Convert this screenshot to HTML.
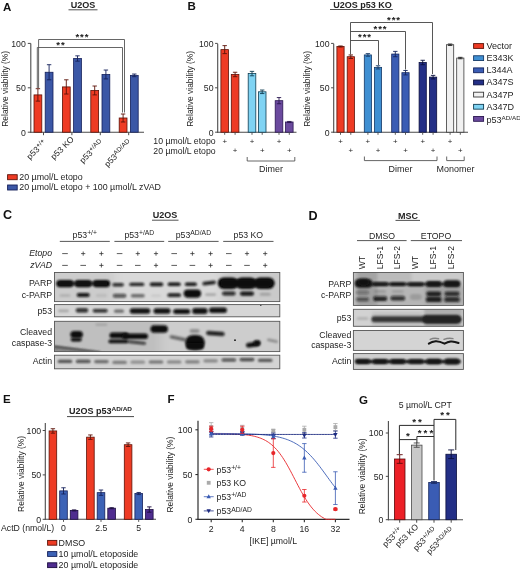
<!DOCTYPE html>
<html><head><meta charset="utf-8"><title>Figure</title>
<style>
html,body{margin:0;padding:0;background:#fff;}
body{width:520px;height:571px;overflow:hidden;}
svg{display:block;font-family:"Liberation Sans",Arial,Helvetica,sans-serif;}
</style></head><body>
<svg width="520" height="571" viewBox="0 0 520 571">
<defs>
<filter id="b1" x="-30%" y="-80%" width="160%" height="260%"><feGaussianBlur stdDeviation="0.8"/></filter>
<filter id="b05" x="-30%" y="-80%" width="160%" height="260%"><feGaussianBlur stdDeviation="0.45"/></filter>
<filter id="b15" x="-30%" y="-80%" width="160%" height="260%"><feGaussianBlur stdDeviation="0.9"/></filter>
<filter id="b2" x="-30%" y="-80%" width="160%" height="260%"><feGaussianBlur stdDeviation="1.1"/></filter>
<filter id="b3" x="-30%" y="-80%" width="160%" height="260%"><feGaussianBlur stdDeviation="1.8"/></filter>
<filter id="b6" x="-40%" y="-80%" width="180%" height="260%"><feGaussianBlur stdDeviation="5"/></filter>
</defs>
<rect width="520" height="571" fill="#ffffff"/>

<g id="panelA">
<text font-size="11.00" fill="#111" font-weight="bold" transform="translate(3.00 10.60) scale(1.05 1)">A</text>
<text font-size="8.60" fill="#242424" text-anchor="middle" font-weight="bold" transform="translate(83.00 8.40) scale(1.05 1)">U2OS</text>
<line x1="68.50" y1="9.80" x2="97.50" y2="9.80" stroke="#242424" stroke-width="0.80"/>
<line x1="30.80" y1="43.60" x2="30.80" y2="132.70" stroke="#4a4a4a" stroke-width="1.10"/>
<line x1="27.80" y1="132.20" x2="30.80" y2="132.20" stroke="#4a4a4a" stroke-width="1.00"/>
<text font-size="8.30" fill="#242424" text-anchor="end" transform="translate(25.80 135.69) scale(1.05 1)">0</text>
<line x1="27.80" y1="87.80" x2="30.80" y2="87.80" stroke="#4a4a4a" stroke-width="1.00"/>
<text font-size="8.30" fill="#242424" text-anchor="end" transform="translate(25.80 91.29) scale(1.05 1)">50</text>
<line x1="27.80" y1="43.40" x2="30.80" y2="43.40" stroke="#4a4a4a" stroke-width="1.00"/>
<text font-size="8.30" fill="#242424" text-anchor="end" transform="translate(25.80 46.89) scale(1.05 1)">100</text>
<text font-size="8.45" fill="#242424" text-anchor="middle" transform="translate(8.40 88.80) rotate(-90) scale(1 1)">Relative viability (%)</text>
<line x1="30.30" y1="132.20" x2="144.00" y2="132.20" stroke="#4a4a4a" stroke-width="1.10"/>
<rect x="34.00" y="94.90" width="7.80" height="37.30" fill="#ee3b24" stroke="#5c1208" stroke-width="0.80"/>
<line x1="37.90" y1="88.69" x2="37.90" y2="101.12" stroke="#5c1208" stroke-width="0.90"/>
<line x1="35.70" y1="88.69" x2="40.10" y2="88.69" stroke="#5c1208" stroke-width="0.90"/>
<line x1="35.70" y1="101.12" x2="40.10" y2="101.12" stroke="#5c1208" stroke-width="0.90"/>
<rect x="45.20" y="72.26" width="7.80" height="59.94" fill="#3b57a6" stroke="#14205a" stroke-width="0.80"/>
<line x1="49.10" y1="64.71" x2="49.10" y2="79.81" stroke="#14205a" stroke-width="0.90"/>
<line x1="46.90" y1="64.71" x2="51.30" y2="64.71" stroke="#14205a" stroke-width="0.90"/>
<line x1="46.90" y1="79.81" x2="51.30" y2="79.81" stroke="#14205a" stroke-width="0.90"/>
<line x1="43.50" y1="132.20" x2="43.50" y2="135.20" stroke="#4a4a4a" stroke-width="1.00"/>
<rect x="62.40" y="86.91" width="7.80" height="45.29" fill="#ee3b24" stroke="#5c1208" stroke-width="0.80"/>
<line x1="66.30" y1="79.81" x2="66.30" y2="94.02" stroke="#5c1208" stroke-width="0.90"/>
<line x1="64.10" y1="79.81" x2="68.50" y2="79.81" stroke="#5c1208" stroke-width="0.90"/>
<line x1="64.10" y1="94.02" x2="68.50" y2="94.02" stroke="#5c1208" stroke-width="0.90"/>
<rect x="73.60" y="58.50" width="7.80" height="73.70" fill="#3b57a6" stroke="#14205a" stroke-width="0.80"/>
<line x1="77.50" y1="55.83" x2="77.50" y2="61.16" stroke="#14205a" stroke-width="0.90"/>
<line x1="75.30" y1="55.83" x2="79.70" y2="55.83" stroke="#14205a" stroke-width="0.90"/>
<line x1="75.30" y1="61.16" x2="79.70" y2="61.16" stroke="#14205a" stroke-width="0.90"/>
<line x1="71.90" y1="132.20" x2="71.90" y2="135.20" stroke="#4a4a4a" stroke-width="1.00"/>
<rect x="90.80" y="90.46" width="7.80" height="41.74" fill="#ee3b24" stroke="#5c1208" stroke-width="0.80"/>
<line x1="94.70" y1="86.02" x2="94.70" y2="94.90" stroke="#5c1208" stroke-width="0.90"/>
<line x1="92.50" y1="86.02" x2="96.90" y2="86.02" stroke="#5c1208" stroke-width="0.90"/>
<line x1="92.50" y1="94.90" x2="96.90" y2="94.90" stroke="#5c1208" stroke-width="0.90"/>
<rect x="102.00" y="74.48" width="7.80" height="57.72" fill="#3b57a6" stroke="#14205a" stroke-width="0.80"/>
<line x1="105.90" y1="70.04" x2="105.90" y2="78.92" stroke="#14205a" stroke-width="0.90"/>
<line x1="103.70" y1="70.04" x2="108.10" y2="70.04" stroke="#14205a" stroke-width="0.90"/>
<line x1="103.70" y1="78.92" x2="108.10" y2="78.92" stroke="#14205a" stroke-width="0.90"/>
<line x1="100.30" y1="132.20" x2="100.30" y2="135.20" stroke="#4a4a4a" stroke-width="1.00"/>
<rect x="119.20" y="117.99" width="7.80" height="14.21" fill="#ee3b24" stroke="#5c1208" stroke-width="0.80"/>
<line x1="123.10" y1="114.00" x2="123.10" y2="121.99" stroke="#5c1208" stroke-width="0.90"/>
<line x1="120.90" y1="114.00" x2="125.30" y2="114.00" stroke="#5c1208" stroke-width="0.90"/>
<line x1="120.90" y1="121.99" x2="125.30" y2="121.99" stroke="#5c1208" stroke-width="0.90"/>
<rect x="130.40" y="75.37" width="7.80" height="56.83" fill="#3b57a6" stroke="#14205a" stroke-width="0.80"/>
<line x1="134.30" y1="74.04" x2="134.30" y2="76.70" stroke="#14205a" stroke-width="0.90"/>
<line x1="132.10" y1="74.04" x2="136.50" y2="74.04" stroke="#14205a" stroke-width="0.90"/>
<line x1="132.10" y1="76.70" x2="136.50" y2="76.70" stroke="#14205a" stroke-width="0.90"/>
<line x1="128.70" y1="132.20" x2="128.70" y2="135.20" stroke="#4a4a4a" stroke-width="1.00"/>
<path d="M38.6 88 V39.5 H124.5 V112.5" stroke="#555" stroke-width="0.90" fill="none"/>
<path d="M37.3 88 V47.5 H122.5 V112.5" stroke="#555" stroke-width="0.90" fill="none"/>
<text font-size="9.60" fill="#1a1a1a" text-anchor="middle" font-weight="bold" transform="translate(82.35 39.50) scale(1 1)" letter-spacing="0.90">***</text>
<text font-size="9.60" fill="#1a1a1a" text-anchor="middle" font-weight="bold" transform="translate(60.95 47.70) scale(1 1)" letter-spacing="0.90">**</text>
<text font-size="8.30" fill="#242424" text-anchor="end" transform="translate(46.80 143.10) rotate(-45) scale(1.025 1)">p53<tspan dy="-2.57" font-size="6.47">+/+</tspan></text>
<text font-size="8.30" fill="#242424" text-anchor="end" transform="translate(74.40 139.70) rotate(-45) scale(1.025 1)">p53 KO</text>
<text font-size="8.30" fill="#242424" text-anchor="end" transform="translate(103.60 143.10) rotate(-45) scale(1.025 1)">p53<tspan dy="-2.57" font-size="6.47">+/AD</tspan></text>
<text font-size="8.30" fill="#242424" text-anchor="end" transform="translate(132.00 143.10) rotate(-45) scale(1.025 1)">p53<tspan dy="-2.57" font-size="6.47">AD/AD</tspan></text>
<rect x="7.60" y="174.70" width="9.60" height="5.00" fill="#ee3b24" stroke="#5c1208" stroke-width="0.90"/>
<text font-size="8.30" fill="#242424" transform="translate(19.30 180.20) scale(1.07 1)">20 µmol/L etopo</text>
<rect x="7.60" y="185.00" width="9.60" height="5.00" fill="#3b57a6" stroke="#14205a" stroke-width="0.90"/>
<text font-size="8.30" fill="#242424" transform="translate(19.30 190.40) scale(1.07 1)">20 µmol/L etopo + 100 µmol/L zVAD</text>
</g>
<g id="panelB">
<text font-size="11.00" fill="#111" font-weight="bold" transform="translate(187.60 10.20) scale(1.05 1)">B</text>
<line x1="217.70" y1="43.80" x2="217.70" y2="132.70" stroke="#4a4a4a" stroke-width="1.10"/>
<line x1="215.10" y1="132.20" x2="217.70" y2="132.20" stroke="#4a4a4a" stroke-width="1.00"/>
<text font-size="8.30" fill="#242424" text-anchor="end" transform="translate(213.50 135.69) scale(1.05 1)">0</text>
<line x1="215.10" y1="87.80" x2="217.70" y2="87.80" stroke="#4a4a4a" stroke-width="1.00"/>
<text font-size="8.30" fill="#242424" text-anchor="end" transform="translate(213.50 91.29) scale(1.05 1)">50</text>
<line x1="215.10" y1="43.40" x2="217.70" y2="43.40" stroke="#4a4a4a" stroke-width="1.00"/>
<text font-size="8.30" fill="#242424" text-anchor="end" transform="translate(213.50 46.89) scale(1.05 1)">100</text>
<text font-size="8.45" fill="#242424" text-anchor="middle" transform="translate(192.60 88.80) rotate(-90) scale(1 1)">Relative viability (%)</text>
<line x1="217.20" y1="132.20" x2="296.50" y2="132.20" stroke="#4a4a4a" stroke-width="1.10"/>
<rect x="220.90" y="49.62" width="7.60" height="82.58" fill="#ee3b24" stroke="#5c1208" stroke-width="0.80"/>
<line x1="224.70" y1="45.62" x2="224.70" y2="53.61" stroke="#5c1208" stroke-width="0.90"/>
<line x1="222.50" y1="45.62" x2="226.90" y2="45.62" stroke="#5c1208" stroke-width="0.90"/>
<line x1="222.50" y1="53.61" x2="226.90" y2="53.61" stroke="#5c1208" stroke-width="0.90"/>
<line x1="224.70" y1="132.20" x2="224.70" y2="134.80" stroke="#4a4a4a" stroke-width="0.90"/>
<text font-size="7.50" fill="#242424" text-anchor="middle" transform="translate(224.70 143.70) scale(1.05 1)">+</text>
<rect x="231.30" y="74.48" width="7.60" height="57.72" fill="#ee3b24" stroke="#5c1208" stroke-width="0.80"/>
<line x1="235.10" y1="72.26" x2="235.10" y2="76.70" stroke="#5c1208" stroke-width="0.90"/>
<line x1="232.90" y1="72.26" x2="237.30" y2="72.26" stroke="#5c1208" stroke-width="0.90"/>
<line x1="232.90" y1="76.70" x2="237.30" y2="76.70" stroke="#5c1208" stroke-width="0.90"/>
<line x1="235.10" y1="132.20" x2="235.10" y2="134.80" stroke="#4a4a4a" stroke-width="0.90"/>
<text font-size="7.50" fill="#242424" text-anchor="middle" transform="translate(235.10 153.30) scale(1.05 1)">+</text>
<rect x="248.20" y="73.59" width="7.60" height="58.61" fill="#7fd3f3" stroke="#0f3d52" stroke-width="0.80"/>
<line x1="252.00" y1="71.37" x2="252.00" y2="75.81" stroke="#0f3d52" stroke-width="0.90"/>
<line x1="249.80" y1="71.37" x2="254.20" y2="71.37" stroke="#0f3d52" stroke-width="0.90"/>
<line x1="249.80" y1="75.81" x2="254.20" y2="75.81" stroke="#0f3d52" stroke-width="0.90"/>
<line x1="252.00" y1="132.20" x2="252.00" y2="134.80" stroke="#4a4a4a" stroke-width="0.90"/>
<text font-size="7.50" fill="#242424" text-anchor="middle" transform="translate(252.00 143.70) scale(1.05 1)">+</text>
<rect x="258.40" y="91.80" width="7.60" height="40.40" fill="#7fd3f3" stroke="#0f3d52" stroke-width="0.80"/>
<line x1="262.20" y1="90.02" x2="262.20" y2="93.57" stroke="#0f3d52" stroke-width="0.90"/>
<line x1="260.00" y1="90.02" x2="264.40" y2="90.02" stroke="#0f3d52" stroke-width="0.90"/>
<line x1="260.00" y1="93.57" x2="264.40" y2="93.57" stroke="#0f3d52" stroke-width="0.90"/>
<line x1="262.20" y1="132.20" x2="262.20" y2="134.80" stroke="#4a4a4a" stroke-width="0.90"/>
<text font-size="7.50" fill="#242424" text-anchor="middle" transform="translate(262.20 153.30) scale(1.05 1)">+</text>
<rect x="275.20" y="100.68" width="7.60" height="31.52" fill="#6b4a9e" stroke="#2a1650" stroke-width="0.80"/>
<line x1="279.00" y1="97.57" x2="279.00" y2="103.78" stroke="#2a1650" stroke-width="0.90"/>
<line x1="276.80" y1="97.57" x2="281.20" y2="97.57" stroke="#2a1650" stroke-width="0.90"/>
<line x1="276.80" y1="103.78" x2="281.20" y2="103.78" stroke="#2a1650" stroke-width="0.90"/>
<line x1="279.00" y1="132.20" x2="279.00" y2="134.80" stroke="#4a4a4a" stroke-width="0.90"/>
<text font-size="7.50" fill="#242424" text-anchor="middle" transform="translate(279.00 143.70) scale(1.05 1)">+</text>
<rect x="285.50" y="121.99" width="7.60" height="10.21" fill="#6b4a9e" stroke="#2a1650" stroke-width="0.80"/>
<line x1="289.30" y1="121.46" x2="289.30" y2="122.52" stroke="#2a1650" stroke-width="0.90"/>
<line x1="287.10" y1="121.46" x2="291.50" y2="121.46" stroke="#2a1650" stroke-width="0.90"/>
<line x1="287.10" y1="122.52" x2="291.50" y2="122.52" stroke="#2a1650" stroke-width="0.90"/>
<line x1="289.30" y1="132.20" x2="289.30" y2="134.80" stroke="#4a4a4a" stroke-width="0.90"/>
<text font-size="7.50" fill="#242424" text-anchor="middle" transform="translate(289.30 153.30) scale(1.05 1)">+</text>
<text font-size="8.30" fill="#242424" text-anchor="end" transform="translate(215.60 143.90) scale(1.05 1)">10 µmol/L etopo</text>
<text font-size="8.30" fill="#242424" text-anchor="end" transform="translate(215.60 153.50) scale(1.05 1)">20 µmol/L etopo</text>
<path d="M247.2 157 V161 H294.8 V157" stroke="#555" stroke-width="0.90" fill="none"/>
<text font-size="8.30" fill="#242424" text-anchor="middle" transform="translate(271.00 172.00) scale(1.08 1)">Dimer</text>
<text font-size="8.60" fill="#242424" text-anchor="middle" font-weight="bold" transform="translate(362.50 7.80) scale(1.05 1)">U2OS p53 KO</text>
<line x1="330.00" y1="9.50" x2="392.80" y2="9.50" stroke="#242424" stroke-width="0.80"/>
<line x1="333.70" y1="43.80" x2="333.70" y2="132.70" stroke="#4a4a4a" stroke-width="1.10"/>
<line x1="331.10" y1="132.20" x2="333.70" y2="132.20" stroke="#4a4a4a" stroke-width="1.00"/>
<text font-size="8.30" fill="#242424" text-anchor="end" transform="translate(329.50 135.69) scale(1.05 1)">0</text>
<line x1="331.10" y1="87.80" x2="333.70" y2="87.80" stroke="#4a4a4a" stroke-width="1.00"/>
<text font-size="8.30" fill="#242424" text-anchor="end" transform="translate(329.50 91.29) scale(1.05 1)">50</text>
<line x1="331.10" y1="43.40" x2="333.70" y2="43.40" stroke="#4a4a4a" stroke-width="1.00"/>
<text font-size="8.30" fill="#242424" text-anchor="end" transform="translate(329.50 46.89) scale(1.05 1)">100</text>
<text font-size="8.45" fill="#242424" text-anchor="middle" transform="translate(309.60 88.80) rotate(-90) scale(1 1)">Relative viability (%)</text>
<line x1="333.20" y1="132.20" x2="468.00" y2="132.20" stroke="#4a4a4a" stroke-width="1.10"/>
<rect x="336.90" y="46.51" width="7.20" height="85.69" fill="#ee3b24" stroke="#5c1208" stroke-width="0.80"/>
<line x1="340.50" y1="45.98" x2="340.50" y2="47.04" stroke="#5c1208" stroke-width="0.90"/>
<line x1="338.30" y1="45.98" x2="342.70" y2="45.98" stroke="#5c1208" stroke-width="0.90"/>
<line x1="338.30" y1="47.04" x2="342.70" y2="47.04" stroke="#5c1208" stroke-width="0.90"/>
<line x1="340.50" y1="132.20" x2="340.50" y2="134.80" stroke="#4a4a4a" stroke-width="0.90"/>
<text font-size="7.50" fill="#242424" text-anchor="middle" transform="translate(340.50 143.70) scale(1.05 1)">+</text>
<rect x="347.20" y="56.72" width="7.20" height="75.48" fill="#ee3b24" stroke="#5c1208" stroke-width="0.80"/>
<line x1="350.80" y1="54.94" x2="350.80" y2="58.50" stroke="#5c1208" stroke-width="0.90"/>
<line x1="348.60" y1="54.94" x2="353.00" y2="54.94" stroke="#5c1208" stroke-width="0.90"/>
<line x1="348.60" y1="58.50" x2="353.00" y2="58.50" stroke="#5c1208" stroke-width="0.90"/>
<line x1="350.80" y1="132.20" x2="350.80" y2="134.80" stroke="#4a4a4a" stroke-width="0.90"/>
<text font-size="7.50" fill="#242424" text-anchor="middle" transform="translate(350.80 153.30) scale(1.05 1)">+</text>
<rect x="364.30" y="54.94" width="7.20" height="77.26" fill="#3f8fd2" stroke="#173a66" stroke-width="0.80"/>
<line x1="367.90" y1="53.61" x2="367.90" y2="56.28" stroke="#173a66" stroke-width="0.90"/>
<line x1="365.70" y1="53.61" x2="370.10" y2="53.61" stroke="#173a66" stroke-width="0.90"/>
<line x1="365.70" y1="56.28" x2="370.10" y2="56.28" stroke="#173a66" stroke-width="0.90"/>
<line x1="367.90" y1="132.20" x2="367.90" y2="134.80" stroke="#4a4a4a" stroke-width="0.90"/>
<text font-size="7.50" fill="#242424" text-anchor="middle" transform="translate(367.90 143.70) scale(1.05 1)">+</text>
<rect x="374.40" y="67.38" width="7.20" height="64.82" fill="#3f8fd2" stroke="#173a66" stroke-width="0.80"/>
<line x1="378.00" y1="65.78" x2="378.00" y2="68.97" stroke="#173a66" stroke-width="0.90"/>
<line x1="375.80" y1="65.78" x2="380.20" y2="65.78" stroke="#173a66" stroke-width="0.90"/>
<line x1="375.80" y1="68.97" x2="380.20" y2="68.97" stroke="#173a66" stroke-width="0.90"/>
<line x1="378.00" y1="132.20" x2="378.00" y2="134.80" stroke="#4a4a4a" stroke-width="0.90"/>
<text font-size="7.50" fill="#242424" text-anchor="middle" transform="translate(378.00 153.30) scale(1.05 1)">+</text>
<rect x="391.70" y="54.06" width="7.20" height="78.14" fill="#3a5cb4" stroke="#14255e" stroke-width="0.80"/>
<line x1="395.30" y1="51.39" x2="395.30" y2="56.72" stroke="#14255e" stroke-width="0.90"/>
<line x1="393.10" y1="51.39" x2="397.50" y2="51.39" stroke="#14255e" stroke-width="0.90"/>
<line x1="393.10" y1="56.72" x2="397.50" y2="56.72" stroke="#14255e" stroke-width="0.90"/>
<line x1="395.30" y1="132.20" x2="395.30" y2="134.80" stroke="#4a4a4a" stroke-width="0.90"/>
<text font-size="7.50" fill="#242424" text-anchor="middle" transform="translate(395.30 143.70) scale(1.05 1)">+</text>
<rect x="401.90" y="72.70" width="7.20" height="59.50" fill="#3a5cb4" stroke="#14255e" stroke-width="0.80"/>
<line x1="405.50" y1="70.48" x2="405.50" y2="74.92" stroke="#14255e" stroke-width="0.90"/>
<line x1="403.30" y1="70.48" x2="407.70" y2="70.48" stroke="#14255e" stroke-width="0.90"/>
<line x1="403.30" y1="74.92" x2="407.70" y2="74.92" stroke="#14255e" stroke-width="0.90"/>
<line x1="405.50" y1="132.20" x2="405.50" y2="134.80" stroke="#4a4a4a" stroke-width="0.90"/>
<text font-size="7.50" fill="#242424" text-anchor="middle" transform="translate(405.50 153.30) scale(1.05 1)">+</text>
<rect x="419.10" y="62.49" width="7.20" height="69.71" fill="#232f86" stroke="#0a0f3c" stroke-width="0.80"/>
<line x1="422.70" y1="60.27" x2="422.70" y2="64.71" stroke="#0a0f3c" stroke-width="0.90"/>
<line x1="420.50" y1="60.27" x2="424.90" y2="60.27" stroke="#0a0f3c" stroke-width="0.90"/>
<line x1="420.50" y1="64.71" x2="424.90" y2="64.71" stroke="#0a0f3c" stroke-width="0.90"/>
<line x1="422.70" y1="132.20" x2="422.70" y2="134.80" stroke="#4a4a4a" stroke-width="0.90"/>
<text font-size="7.50" fill="#242424" text-anchor="middle" transform="translate(422.70 143.70) scale(1.05 1)">+</text>
<rect x="429.50" y="77.14" width="7.20" height="55.06" fill="#232f86" stroke="#0a0f3c" stroke-width="0.80"/>
<line x1="433.10" y1="75.37" x2="433.10" y2="78.92" stroke="#0a0f3c" stroke-width="0.90"/>
<line x1="430.90" y1="75.37" x2="435.30" y2="75.37" stroke="#0a0f3c" stroke-width="0.90"/>
<line x1="430.90" y1="78.92" x2="435.30" y2="78.92" stroke="#0a0f3c" stroke-width="0.90"/>
<line x1="433.10" y1="132.20" x2="433.10" y2="134.80" stroke="#4a4a4a" stroke-width="0.90"/>
<text font-size="7.50" fill="#242424" text-anchor="middle" transform="translate(433.10 153.30) scale(1.05 1)">+</text>
<rect x="446.50" y="44.73" width="7.20" height="87.47" fill="#f1f1f1" stroke="#3a3a3a" stroke-width="0.80"/>
<line x1="450.10" y1="44.02" x2="450.10" y2="45.44" stroke="#222" stroke-width="0.90"/>
<line x1="447.90" y1="44.02" x2="452.30" y2="44.02" stroke="#222" stroke-width="0.90"/>
<line x1="447.90" y1="45.44" x2="452.30" y2="45.44" stroke="#222" stroke-width="0.90"/>
<line x1="450.10" y1="132.20" x2="450.10" y2="134.80" stroke="#4a4a4a" stroke-width="0.90"/>
<text font-size="7.50" fill="#242424" text-anchor="middle" transform="translate(450.10 143.70) scale(1.05 1)">+</text>
<rect x="456.70" y="58.05" width="7.20" height="74.15" fill="#f1f1f1" stroke="#3a3a3a" stroke-width="0.80"/>
<line x1="460.30" y1="57.34" x2="460.30" y2="58.76" stroke="#222" stroke-width="0.90"/>
<line x1="458.10" y1="57.34" x2="462.50" y2="57.34" stroke="#222" stroke-width="0.90"/>
<line x1="458.10" y1="58.76" x2="462.50" y2="58.76" stroke="#222" stroke-width="0.90"/>
<line x1="460.30" y1="132.20" x2="460.30" y2="134.80" stroke="#4a4a4a" stroke-width="0.90"/>
<text font-size="7.50" fill="#242424" text-anchor="middle" transform="translate(460.30 153.30) scale(1.05 1)">+</text>
<path d="M350.5 54.5 V22.5 H432.5 V74" stroke="#444" stroke-width="0.90" fill="none"/>
<path d="M350.5 31.5 H405.5 V69.5" stroke="#444" stroke-width="0.90" fill="none"/>
<path d="M350.5 40.5 H378.5 V65" stroke="#444" stroke-width="0.90" fill="none"/>
<text font-size="9.60" fill="#1a1a1a" text-anchor="middle" font-weight="bold" transform="translate(393.95 22.70) scale(1 1)" letter-spacing="0.90">***</text>
<text font-size="9.60" fill="#1a1a1a" text-anchor="middle" font-weight="bold" transform="translate(380.45 31.60) scale(1 1)" letter-spacing="0.90">***</text>
<text font-size="9.60" fill="#1a1a1a" text-anchor="middle" font-weight="bold" transform="translate(364.95 40.40) scale(1 1)" letter-spacing="0.90">***</text>
<path d="M364.4 156.5 V160.6 H437 V156.5" stroke="#555" stroke-width="0.90" fill="none"/>
<text font-size="8.30" fill="#242424" text-anchor="middle" transform="translate(400.50 172.00) scale(1.08 1)">Dimer</text>
<path d="M446.7 156.5 V160.6 H464.2 V156.5" stroke="#555" stroke-width="0.90" fill="none"/>
<text font-size="8.30" fill="#242424" text-anchor="middle" transform="translate(455.50 172.00) scale(1.08 1)">Monomer</text>
<rect x="473.60" y="43.60" width="10.00" height="4.80" fill="#ee3b24" stroke="#5c1208" stroke-width="0.90"/>
<text font-size="8.30" fill="#242424" transform="translate(486.40 49.00) scale(1.09 1)">Vector</text>
<rect x="473.60" y="55.75" width="10.00" height="4.80" fill="#3f8fd2" stroke="#173a66" stroke-width="0.90"/>
<text font-size="8.30" fill="#242424" transform="translate(486.40 61.15) scale(1.09 1)">E343K</text>
<rect x="473.60" y="67.90" width="10.00" height="4.80" fill="#3a5cb4" stroke="#14255e" stroke-width="0.90"/>
<text font-size="8.30" fill="#242424" transform="translate(486.40 73.30) scale(1.09 1)">L344A</text>
<rect x="473.60" y="80.05" width="10.00" height="4.80" fill="#232f86" stroke="#0a0f3c" stroke-width="0.90"/>
<text font-size="8.30" fill="#242424" transform="translate(486.40 85.45) scale(1.09 1)">A347S</text>
<rect x="473.60" y="92.20" width="10.00" height="4.80" fill="#f1f1f1" stroke="#3a3a3a" stroke-width="0.90"/>
<text font-size="8.30" fill="#242424" transform="translate(486.40 97.60) scale(1.09 1)">A347P</text>
<rect x="473.60" y="104.35" width="10.00" height="4.80" fill="#7fd3f3" stroke="#0f3d52" stroke-width="0.90"/>
<text font-size="8.30" fill="#242424" transform="translate(486.40 109.75) scale(1.09 1)">A347D</text>
<rect x="473.60" y="116.50" width="10.00" height="4.80" fill="#6b4a9e" stroke="#2a1650" stroke-width="0.90"/>
<text font-size="8.30" fill="#242424" transform="translate(486.40 122.50) scale(1.09 1)">p53<tspan dy="-2.99" font-size="5.81">AD/AD</tspan></text>
</g>
<g id="panelC">
<text font-size="12.00" fill="#111" font-weight="bold" transform="translate(3.00 218.50) scale(1.05 1)">C</text>
<text font-size="8.60" fill="#242424" text-anchor="middle" font-weight="bold" transform="translate(165.00 218.30) scale(1.05 1)">U2OS</text>
<line x1="152.00" y1="220.20" x2="178.50" y2="220.20" stroke="#242424" stroke-width="0.80"/>
<text font-size="8.30" fill="#242424" text-anchor="middle" transform="translate(84.80 237.80) scale(1.05 1)">p53<tspan dy="-2.57" font-size="6.47">+/+</tspan></text>
<line x1="59.80" y1="241.40" x2="109.80" y2="241.40" stroke="#444" stroke-width="0.90"/>
<text font-size="8.30" fill="#242424" text-anchor="middle" transform="translate(139.30 237.80) scale(1.05 1)">p53<tspan dy="-2.57" font-size="6.47">+/AD</tspan></text>
<line x1="114.40" y1="241.40" x2="164.20" y2="241.40" stroke="#444" stroke-width="0.90"/>
<text font-size="8.30" fill="#242424" text-anchor="middle" transform="translate(193.40 237.80) scale(1.05 1)">p53<tspan dy="-2.57" font-size="6.47">AD/AD</tspan></text>
<line x1="168.20" y1="241.40" x2="218.60" y2="241.40" stroke="#444" stroke-width="0.90"/>
<text font-size="8.30" fill="#242424" text-anchor="middle" transform="translate(248.35 237.80) scale(1.05 1)">p53 KO</text>
<line x1="223.20" y1="241.40" x2="273.50" y2="241.40" stroke="#444" stroke-width="0.90"/>
<text font-size="8.30" fill="#242424" text-anchor="end" font-style="italic" transform="translate(52.00 256.30) scale(1.05 1)">Etopo</text>
<text font-size="8.30" fill="#242424" text-anchor="end" font-style="italic" transform="translate(52.00 268.20) scale(1.05 1)">zVAD</text>
<line x1="62.20" y1="253.60" x2="67.80" y2="253.60" stroke="#333" stroke-width="0.80"/>
<line x1="62.20" y1="265.40" x2="67.80" y2="265.40" stroke="#333" stroke-width="0.80"/>
<line x1="81.10" y1="253.60" x2="85.30" y2="253.60" stroke="#333" stroke-width="0.80"/>
<line x1="83.20" y1="251.50" x2="83.20" y2="255.70" stroke="#333" stroke-width="0.80"/>
<line x1="80.40" y1="265.40" x2="86.00" y2="265.40" stroke="#333" stroke-width="0.80"/>
<line x1="99.30" y1="253.60" x2="103.50" y2="253.60" stroke="#333" stroke-width="0.80"/>
<line x1="101.40" y1="251.50" x2="101.40" y2="255.70" stroke="#333" stroke-width="0.80"/>
<line x1="99.30" y1="265.40" x2="103.50" y2="265.40" stroke="#333" stroke-width="0.80"/>
<line x1="101.40" y1="263.30" x2="101.40" y2="267.50" stroke="#333" stroke-width="0.80"/>
<line x1="116.80" y1="253.60" x2="122.40" y2="253.60" stroke="#333" stroke-width="0.80"/>
<line x1="116.80" y1="265.40" x2="122.40" y2="265.40" stroke="#333" stroke-width="0.80"/>
<line x1="135.70" y1="253.60" x2="139.90" y2="253.60" stroke="#333" stroke-width="0.80"/>
<line x1="137.80" y1="251.50" x2="137.80" y2="255.70" stroke="#333" stroke-width="0.80"/>
<line x1="135.00" y1="265.40" x2="140.60" y2="265.40" stroke="#333" stroke-width="0.80"/>
<line x1="153.90" y1="253.60" x2="158.10" y2="253.60" stroke="#333" stroke-width="0.80"/>
<line x1="156.00" y1="251.50" x2="156.00" y2="255.70" stroke="#333" stroke-width="0.80"/>
<line x1="153.90" y1="265.40" x2="158.10" y2="265.40" stroke="#333" stroke-width="0.80"/>
<line x1="156.00" y1="263.30" x2="156.00" y2="267.50" stroke="#333" stroke-width="0.80"/>
<line x1="171.40" y1="253.60" x2="177.00" y2="253.60" stroke="#333" stroke-width="0.80"/>
<line x1="171.40" y1="265.40" x2="177.00" y2="265.40" stroke="#333" stroke-width="0.80"/>
<line x1="190.30" y1="253.60" x2="194.50" y2="253.60" stroke="#333" stroke-width="0.80"/>
<line x1="192.40" y1="251.50" x2="192.40" y2="255.70" stroke="#333" stroke-width="0.80"/>
<line x1="189.60" y1="265.40" x2="195.20" y2="265.40" stroke="#333" stroke-width="0.80"/>
<line x1="208.50" y1="253.60" x2="212.70" y2="253.60" stroke="#333" stroke-width="0.80"/>
<line x1="210.60" y1="251.50" x2="210.60" y2="255.70" stroke="#333" stroke-width="0.80"/>
<line x1="208.50" y1="265.40" x2="212.70" y2="265.40" stroke="#333" stroke-width="0.80"/>
<line x1="210.60" y1="263.30" x2="210.60" y2="267.50" stroke="#333" stroke-width="0.80"/>
<line x1="226.00" y1="253.60" x2="231.60" y2="253.60" stroke="#333" stroke-width="0.80"/>
<line x1="226.00" y1="265.40" x2="231.60" y2="265.40" stroke="#333" stroke-width="0.80"/>
<line x1="244.90" y1="253.60" x2="249.10" y2="253.60" stroke="#333" stroke-width="0.80"/>
<line x1="247.00" y1="251.50" x2="247.00" y2="255.70" stroke="#333" stroke-width="0.80"/>
<line x1="244.20" y1="265.40" x2="249.80" y2="265.40" stroke="#333" stroke-width="0.80"/>
<line x1="263.10" y1="253.60" x2="267.30" y2="253.60" stroke="#333" stroke-width="0.80"/>
<line x1="265.20" y1="251.50" x2="265.20" y2="255.70" stroke="#333" stroke-width="0.80"/>
<line x1="263.10" y1="265.40" x2="267.30" y2="265.40" stroke="#333" stroke-width="0.80"/>
<line x1="265.20" y1="263.30" x2="265.20" y2="267.50" stroke="#333" stroke-width="0.80"/>
<clipPath id="c1"><rect x="54.50" y="272.50" width="225.30" height="29.10"/></clipPath>
<rect x="54.50" y="272.50" width="225.30" height="29.10" fill="#d9d9d9"/>
<g clip-path="url(#c1)">
<rect x="44.50" y="268.00" width="70.00" height="38.00" fill="#000" fill-opacity="0.06" filter="url(#b6)"/>
<rect x="222.00" y="268.00" width="70.00" height="38.00" fill="#000" fill-opacity="0.07" filter="url(#b6)"/>
<rect x="56.25" y="280.00" width="17.50" height="7.20" rx="3.60" ry="3.60" fill="#0a0a0a" fill-opacity="1.00" filter="url(#b1)"/>
<rect x="74.45" y="280.00" width="17.50" height="7.20" rx="3.60" ry="3.60" fill="#0a0a0a" fill-opacity="1.00" filter="url(#b1)"/>
<rect x="92.65" y="280.00" width="17.50" height="7.20" rx="3.60" ry="3.60" fill="#0a0a0a" fill-opacity="1.00" filter="url(#b1)"/>
<rect x="58.20" y="282.10" width="50.00" height="3.00" rx="1.50" ry="1.50" fill="#0a0a0a" fill-opacity="0.80" filter="url(#b1)"/>
<rect x="112.35" y="283.10" width="11.50" height="3.40" rx="1.70" ry="1.70" fill="#0a0a0a" fill-opacity="0.85" filter="url(#b1)"/>
<rect x="129.30" y="282.70" width="15.00" height="3.40" rx="1.70" ry="1.70" fill="#0a0a0a" fill-opacity="0.90" filter="url(#b1)"/>
<rect x="149.75" y="282.60" width="13.50" height="3.60" rx="1.80" ry="1.80" fill="#0a0a0a" fill-opacity="0.95" filter="url(#b1)"/>
<rect x="167.70" y="282.40" width="13.00" height="3.60" rx="1.80" ry="1.80" fill="#0a0a0a" fill-opacity="0.97" filter="url(#b1)"/>
<rect x="184.90" y="282.50" width="12.00" height="3.40" rx="1.70" ry="1.70" fill="#0a0a0a" fill-opacity="0.95" filter="url(#b1)"/>
<rect x="202.35" y="281.30" width="13.50" height="3.40" rx="1.70" ry="1.70" fill="#0a0a0a" fill-opacity="0.97" filter="url(#b1)" transform="rotate(-7 209.10 283.00)"/>
<rect x="217.75" y="277.40" width="20.50" height="11.60" rx="5.80" ry="5.80" fill="#0a0a0a" fill-opacity="1.00" filter="url(#b1)"/>
<rect x="235.95" y="277.40" width="20.50" height="11.60" rx="5.80" ry="5.80" fill="#0a0a0a" fill-opacity="1.00" filter="url(#b1)"/>
<rect x="254.15" y="277.40" width="20.50" height="11.60" rx="5.80" ry="5.80" fill="#0a0a0a" fill-opacity="1.00" filter="url(#b1)"/>
<rect x="220.20" y="279.70" width="52.00" height="7.00" rx="3.50" ry="3.50" fill="#0a0a0a" fill-opacity="1.00" filter="url(#b1)"/>
<rect x="59.50" y="294.15" width="11.00" height="2.50" rx="1.25" ry="1.25" fill="#0a0a0a" fill-opacity="0.15" filter="url(#b2)"/>
<rect x="76.70" y="292.90" width="13.00" height="4.20" rx="2.10" ry="2.10" fill="#0a0a0a" fill-opacity="0.95" filter="url(#b1)"/>
<rect x="95.90" y="294.15" width="11.00" height="2.50" rx="1.25" ry="1.25" fill="#0a0a0a" fill-opacity="0.10" filter="url(#b2)"/>
<rect x="112.85" y="293.80" width="13.50" height="4.00" rx="2.00" ry="2.00" fill="#0a0a0a" fill-opacity="0.65" filter="url(#b1)"/>
<rect x="130.80" y="294.00" width="14.00" height="3.60" rx="1.80" ry="1.80" fill="#0a0a0a" fill-opacity="0.50" filter="url(#b1)"/>
<rect x="151.00" y="294.55" width="10.00" height="2.50" rx="1.25" ry="1.25" fill="#0a0a0a" fill-opacity="0.08" filter="url(#b2)"/>
<rect x="167.45" y="293.30" width="13.50" height="3.80" rx="1.90" ry="1.90" fill="#0a0a0a" fill-opacity="0.90" filter="url(#b1)"/>
<rect x="183.65" y="289.50" width="17.50" height="8.20" rx="4.10" ry="4.10" fill="#0a0a0a" fill-opacity="1.00" filter="url(#b1)"/>
<rect x="205.10" y="293.30" width="11.00" height="2.60" rx="1.30" ry="1.30" fill="#0a0a0a" fill-opacity="0.22" filter="url(#b2)"/>
<rect x="222.05" y="291.60" width="13.50" height="4.00" rx="2.00" ry="2.00" fill="#0a0a0a" fill-opacity="0.85" filter="url(#b1)"/>
<rect x="240.00" y="291.40" width="14.00" height="4.40" rx="2.20" ry="2.20" fill="#0a0a0a" fill-opacity="0.95" filter="url(#b1)"/>
<rect x="259.70" y="292.70" width="11.00" height="3.00" rx="1.50" ry="1.50" fill="#0a0a0a" fill-opacity="0.20" filter="url(#b2)"/>
</g>
<rect x="54.50" y="272.50" width="225.30" height="29.10" fill="none" stroke="#555" stroke-width="0.90"/>
<clipPath id="c2"><rect x="54.50" y="304.60" width="225.30" height="12.20"/></clipPath>
<rect x="54.50" y="304.60" width="225.30" height="12.20" fill="#d6d6d6"/>
<g clip-path="url(#c2)">
<rect x="58.00" y="309.40" width="11.00" height="2.80" rx="1.40" ry="1.40" fill="#0a0a0a" fill-opacity="0.22" filter="url(#b2)"/>
<rect x="75.75" y="308.30" width="12.50" height="4.20" rx="2.10" ry="2.10" fill="#0a0a0a" fill-opacity="0.85" filter="url(#b1)"/>
<rect x="92.70" y="309.00" width="15.00" height="3.60" rx="1.80" ry="1.80" fill="#0a0a0a" fill-opacity="0.85" filter="url(#b1)"/>
<rect x="114.00" y="309.60" width="10.00" height="3.20" rx="1.60" ry="1.60" fill="#0a0a0a" fill-opacity="0.50" filter="url(#b1)"/>
<rect x="129.75" y="308.20" width="20.50" height="5.60" rx="2.80" ry="2.80" fill="#0a0a0a" fill-opacity="0.97" filter="url(#b1)"/>
<rect x="153.50" y="308.30" width="17.00" height="5.40" rx="2.70" ry="2.70" fill="#0a0a0a" fill-opacity="0.97" filter="url(#b1)"/>
<rect x="173.20" y="308.90" width="17.00" height="5.00" rx="2.50" ry="2.50" fill="#0a0a0a" fill-opacity="0.97" filter="url(#b1)"/>
<rect x="192.15" y="308.10" width="15.50" height="5.80" rx="2.90" ry="2.90" fill="#0a0a0a" fill-opacity="0.97" filter="url(#b1)"/>
<rect x="209.00" y="307.50" width="18.00" height="5.40" rx="2.70" ry="2.70" fill="#0a0a0a" fill-opacity="0.97" filter="url(#b1)"/>
<circle cx="260.8" cy="305.2" r="0.7" fill="#222"/>
</g>
<rect x="54.50" y="304.60" width="225.30" height="12.20" fill="none" stroke="#555" stroke-width="0.90"/>
<clipPath id="c3"><rect x="54.50" y="321.30" width="225.30" height="30.30"/></clipPath>
<rect x="54.50" y="321.30" width="225.30" height="30.30" fill="#cdcdcd"/>
<g clip-path="url(#c3)">
<rect x="44.50" y="316.00" width="116.00" height="42.00" fill="#000" fill-opacity="0.07" filter="url(#b6)"/>
<path d="M53.50 346.0 L104 352.4 L53.50 352.4 Z" fill="#8a8a8a" filter="url(#b1)"/>
<path d="M53.50 346.4 L100 352.2" stroke="#333" stroke-width="1.6" fill="none" filter="url(#b1)"/>
<rect x="70.35" y="330.90" width="12.50" height="7.00" rx="3.50" ry="3.50" fill="#0a0a0a" fill-opacity="1.00" filter="url(#b1)"/>
<rect x="70.70" y="337.70" width="11.00" height="3.80" rx="1.90" ry="1.90" fill="#0a0a0a" fill-opacity="1.00" filter="url(#b1)"/>
<rect x="95.40" y="323.50" width="12.00" height="2.20" rx="1.10" ry="1.10" fill="#0a0a0a" fill-opacity="0.16" filter="url(#b2)"/>
<rect x="109.50" y="332.60" width="19.00" height="5.60" rx="2.80" ry="2.80" fill="#0a0a0a" fill-opacity="1.00" filter="url(#b1)"/>
<rect x="122.00" y="333.40" width="26.00" height="5.60" rx="2.80" ry="2.80" fill="#0a0a0a" fill-opacity="1.00" filter="url(#b1)"/>
<rect x="108.50" y="339.50" width="20.00" height="3.80" rx="1.90" ry="1.90" fill="#0a0a0a" fill-opacity="1.00" filter="url(#b1)"/>
<rect x="128.00" y="341.20" width="18.00" height="2.80" rx="1.40" ry="1.40" fill="#0a0a0a" fill-opacity="0.80" filter="url(#b1)" transform="rotate(6 137.00 342.60)"/>
<rect x="150.45" y="325.20" width="17.50" height="7.60" rx="3.80" ry="3.80" fill="#0a0a0a" fill-opacity="1.00" filter="url(#b1)"/>
<rect x="169.50" y="336.50" width="17.00" height="3.40" rx="1.70" ry="1.70" fill="#0a0a0a" fill-opacity="0.50" filter="url(#b2)" transform="rotate(12 178.00 338.20)"/>
<rect x="189.60" y="329.00" width="10.00" height="4.00" rx="2.00" ry="2.00" fill="#0a0a0a" fill-opacity="0.30" filter="url(#b2)"/>
<rect x="185.25" y="334.95" width="19.50" height="14.50" rx="8.00" ry="7.25" fill="#0a0a0a" fill-opacity="1.00" filter="url(#b1)"/>
<rect x="186.00" y="342.50" width="18.00" height="7.00" rx="3.50" ry="3.50" fill="#0a0a0a" fill-opacity="1.00" filter="url(#b1)"/>
<rect x="206.15" y="331.60" width="18.50" height="4.00" rx="2.00" ry="2.00" fill="#0a0a0a" fill-opacity="0.95" filter="url(#b1)" transform="rotate(4 215.40 333.60)"/>
<circle cx="235" cy="340.2" r="0.9" fill="#111"/>
<rect x="246.00" y="342.30" width="14.00" height="4.60" rx="2.30" ry="2.30" fill="#0a0a0a" fill-opacity="1.00" filter="url(#b1)" transform="rotate(-8 253.00 344.60)"/>
<rect x="253.50" y="340.30" width="7.00" height="5.00" rx="2.50" ry="2.50" fill="#0a0a0a" fill-opacity="1.00" filter="url(#b1)"/>
<rect x="267.00" y="339.60" width="11.00" height="2.40" rx="1.20" ry="1.20" fill="#0a0a0a" fill-opacity="0.35" filter="url(#b2)" transform="rotate(12 272.50 340.80)"/>
</g>
<rect x="54.50" y="321.30" width="225.30" height="30.30" fill="none" stroke="#555" stroke-width="0.90"/>
<clipPath id="c4"><rect x="54.50" y="355.20" width="225.30" height="13.60"/></clipPath>
<rect x="54.50" y="355.20" width="225.30" height="13.60" fill="#d3d3d3"/>
<g clip-path="url(#c4)">
<rect x="57.70" y="359.80" width="14.60" height="3.20" rx="1.60" ry="1.60" fill="#0a0a0a" fill-opacity="0.62" filter="url(#b15)"/>
<rect x="75.90" y="359.80" width="14.60" height="3.20" rx="1.60" ry="1.60" fill="#0a0a0a" fill-opacity="0.68" filter="url(#b15)"/>
<rect x="94.10" y="360.00" width="14.60" height="3.20" rx="1.60" ry="1.60" fill="#0a0a0a" fill-opacity="0.50" filter="url(#b15)"/>
<rect x="112.30" y="360.80" width="14.60" height="3.20" rx="1.60" ry="1.60" fill="#0a0a0a" fill-opacity="0.42" filter="url(#b15)"/>
<rect x="130.50" y="360.60" width="14.60" height="3.20" rx="1.60" ry="1.60" fill="#0a0a0a" fill-opacity="0.32" filter="url(#b15)"/>
<rect x="148.70" y="360.40" width="14.60" height="3.20" rx="1.60" ry="1.60" fill="#0a0a0a" fill-opacity="0.48" filter="url(#b15)"/>
<rect x="166.90" y="360.40" width="14.60" height="3.20" rx="1.60" ry="1.60" fill="#0a0a0a" fill-opacity="0.38" filter="url(#b15)"/>
<rect x="185.10" y="360.20" width="14.60" height="3.20" rx="1.60" ry="1.60" fill="#0a0a0a" fill-opacity="0.40" filter="url(#b15)"/>
<rect x="203.30" y="359.20" width="14.60" height="3.20" rx="1.60" ry="1.60" fill="#0a0a0a" fill-opacity="0.36" filter="url(#b15)"/>
<rect x="221.50" y="358.40" width="14.60" height="3.20" rx="1.60" ry="1.60" fill="#0a0a0a" fill-opacity="0.70" filter="url(#b15)"/>
<rect x="239.70" y="358.00" width="14.60" height="3.20" rx="1.60" ry="1.60" fill="#0a0a0a" fill-opacity="0.72" filter="url(#b15)"/>
<rect x="257.90" y="358.80" width="14.60" height="3.20" rx="1.60" ry="1.60" fill="#0a0a0a" fill-opacity="0.60" filter="url(#b15)"/>
</g>
<rect x="54.50" y="355.20" width="225.30" height="13.60" fill="none" stroke="#555" stroke-width="0.90"/>
<text font-size="8.30" fill="#1c1c1c" text-anchor="end" transform="translate(52.00 285.60) scale(1.05 1)">PARP</text>
<text font-size="8.30" fill="#1c1c1c" text-anchor="end" transform="translate(52.00 298.40) scale(1.05 1)">c-PARP</text>
<text font-size="8.30" fill="#1c1c1c" text-anchor="end" transform="translate(52.00 314.20) scale(1.05 1)">p53</text>
<text font-size="8.30" fill="#1c1c1c" text-anchor="end" transform="translate(52.00 335.20) scale(1.05 1)">Cleaved</text>
<text font-size="8.30" fill="#1c1c1c" text-anchor="end" transform="translate(52.00 345.60) scale(1.05 1)">caspase-3</text>
<text font-size="8.30" fill="#1c1c1c" text-anchor="end" transform="translate(52.00 364.40) scale(1.05 1)">Actin</text>
</g>
<g id="panelD">
<text font-size="12.00" fill="#111" font-weight="bold" transform="translate(308.50 220.00) scale(1.05 1)">D</text>
<text font-size="8.60" fill="#242424" text-anchor="middle" font-weight="bold" transform="translate(408.00 218.60) scale(1.05 1)">MSC</text>
<line x1="395.50" y1="220.40" x2="420.00" y2="220.40" stroke="#242424" stroke-width="0.80"/>
<text font-size="8.30" fill="#242424" text-anchor="middle" transform="translate(382.00 238.80) scale(1.05 1)">DMSO</text>
<line x1="357.00" y1="240.60" x2="406.60" y2="240.60" stroke="#444" stroke-width="0.90"/>
<text font-size="8.30" fill="#242424" text-anchor="middle" transform="translate(436.00 238.80) scale(1.05 1)">ETOPO</text>
<line x1="410.80" y1="240.60" x2="462.00" y2="240.60" stroke="#444" stroke-width="0.90"/>
<text font-size="8.50" fill="#1c1c1c" transform="translate(364.90 269.20) rotate(-90) scale(1 1)">WT</text>
<text font-size="8.50" fill="#1c1c1c" transform="translate(382.60 269.20) rotate(-90) scale(1 1)">LFS-1</text>
<text font-size="8.50" fill="#1c1c1c" transform="translate(400.20 269.20) rotate(-90) scale(1 1)">LFS-2</text>
<text font-size="8.50" fill="#1c1c1c" transform="translate(418.20 269.20) rotate(-90) scale(1 1)">WT</text>
<text font-size="8.50" fill="#1c1c1c" transform="translate(436.20 269.20) rotate(-90) scale(1 1)">LFS-1</text>
<text font-size="8.50" fill="#1c1c1c" transform="translate(454.40 269.20) rotate(-90) scale(1 1)">LFS-2</text>
<clipPath id="c5"><rect x="353.40" y="272.50" width="110.00" height="32.90"/></clipPath>
<rect x="353.40" y="272.50" width="110.00" height="32.90" fill="#cbcbcb"/>
<g clip-path="url(#c5)">
<rect x="353.40" y="286.00" width="112.00" height="20.00" fill="#000" fill-opacity="0.10" filter="url(#b3)"/>
<rect x="353.40" y="270.00" width="58.00" height="12.00" fill="#000" fill-opacity="0.08" filter="url(#b3)"/>
<rect x="357.40" y="270.00" width="20.00" height="36.00" fill="#000" fill-opacity="0.12" filter="url(#b3)"/>
<rect x="425.00" y="286.00" width="36.00" height="18.00" fill="#000" fill-opacity="0.10" filter="url(#b3)"/>
<rect x="358.20" y="282.80" width="100.60" height="2.60" rx="1.30" ry="1.30" fill="#141414" fill-opacity="0.90" filter="url(#b15)"/>
<rect x="354.45" y="279.10" width="18.10" height="8.60" rx="4.30" ry="4.30" fill="#141414" fill-opacity="1.00" filter="url(#b15)"/>
<rect x="358.20" y="278.50" width="10.60" height="7.00" rx="3.50" ry="3.50" fill="#141414" fill-opacity="0.80" filter="url(#b15)"/>
<rect x="372.40" y="282.30" width="15.60" height="3.60" rx="1.80" ry="1.80" fill="#141414" fill-opacity="0.95" filter="url(#b15)"/>
<rect x="390.00" y="282.40" width="15.60" height="3.40" rx="1.70" ry="1.70" fill="#141414" fill-opacity="0.95" filter="url(#b15)"/>
<rect x="408.00" y="282.60" width="15.60" height="3.60" rx="1.80" ry="1.80" fill="#141414" fill-opacity="0.95" filter="url(#b15)"/>
<rect x="426.00" y="281.10" width="15.60" height="5.80" rx="2.90" ry="2.90" fill="#141414" fill-opacity="1.00" filter="url(#b15)"/>
<rect x="443.45" y="280.30" width="17.10" height="7.00" rx="3.50" ry="3.50" fill="#141414" fill-opacity="1.00" filter="url(#b15)"/>
<rect x="356.00" y="290.60" width="13.00" height="4.00" rx="2.00" ry="2.00" fill="#141414" fill-opacity="0.35" filter="url(#b2)"/>
<rect x="356.00" y="297.60" width="13.00" height="3.60" rx="1.80" ry="1.80" fill="#141414" fill-opacity="0.60" filter="url(#b2)"/>
<rect x="374.20" y="290.00" width="12.00" height="3.00" rx="1.50" ry="1.50" fill="#141414" fill-opacity="0.15" filter="url(#b2)"/>
<rect x="373.20" y="295.35" width="14.00" height="4.50" rx="2.25" ry="2.25" fill="#141414" fill-opacity="0.35" filter="url(#b2)"/>
<rect x="373.40" y="297.10" width="13.60" height="3.80" rx="1.90" ry="1.90" fill="#141414" fill-opacity="0.90" filter="url(#b15)"/>
<rect x="391.80" y="290.00" width="12.00" height="3.00" rx="1.50" ry="1.50" fill="#141414" fill-opacity="0.12" filter="url(#b2)"/>
<rect x="390.80" y="295.15" width="14.00" height="4.50" rx="2.25" ry="2.25" fill="#141414" fill-opacity="0.30" filter="url(#b2)"/>
<rect x="390.50" y="296.60" width="14.60" height="4.00" rx="2.00" ry="2.00" fill="#141414" fill-opacity="0.75" filter="url(#b15)"/>
<rect x="409.80" y="294.00" width="12.00" height="6.00" rx="3.00" ry="3.00" fill="#141414" fill-opacity="0.14" filter="url(#b2)"/>
<rect x="426.25" y="291.40" width="15.10" height="4.80" rx="2.40" ry="2.40" fill="#141414" fill-opacity="0.95" filter="url(#b15)"/>
<rect x="426.00" y="296.80" width="15.60" height="5.20" rx="2.60" ry="2.60" fill="#141414" fill-opacity="0.95" filter="url(#b15)"/>
<rect x="444.45" y="291.50" width="15.10" height="4.60" rx="2.30" ry="2.30" fill="#141414" fill-opacity="0.85" filter="url(#b15)"/>
<rect x="444.20" y="296.90" width="15.60" height="5.00" rx="2.50" ry="2.50" fill="#141414" fill-opacity="0.85" filter="url(#b15)"/>
</g>
<rect x="353.40" y="272.50" width="110.00" height="32.90" fill="none" stroke="#555" stroke-width="0.90"/>
<clipPath id="c6"><rect x="353.40" y="309.30" width="110.00" height="17.00"/></clipPath>
<rect x="353.40" y="309.30" width="110.00" height="17.00" fill="#d2d2d2"/>
<g clip-path="url(#c6)">
<rect x="424.00" y="307.00" width="38.00" height="22.00" fill="#000" fill-opacity="0.16" filter="url(#b3)"/>
<rect x="372.00" y="312.00" width="50.00" height="14.00" fill="#000" fill-opacity="0.08" filter="url(#b3)"/>
<rect x="356.50" y="316.90" width="12.00" height="3.00" rx="1.50" ry="1.50" fill="#141414" fill-opacity="0.14" filter="url(#b2)"/>
<rect x="371.40" y="316.30" width="89.60" height="6.00" rx="3.00" ry="3.00" fill="#262626" fill-opacity="0.92" filter="url(#b15)"/>
<rect x="422.30" y="315.00" width="38.60" height="8.80" rx="4.40" ry="4.40" fill="#202020" fill-opacity="0.97" filter="url(#b15)"/>
</g>
<rect x="353.40" y="309.30" width="110.00" height="17.00" fill="none" stroke="#555" stroke-width="0.90"/>
<clipPath id="c7"><rect x="353.40" y="330.50" width="110.00" height="19.90"/></clipPath>
<rect x="353.40" y="330.50" width="110.00" height="19.90" fill="#d4d4d4"/>
<g clip-path="url(#c7)">
<path d="M428.8 343.6 Q432 341.4 435.6 341.2 T444.6 343.6 Q447.6 342.0 450.6 341.5 T458.6 343.0" stroke="#141414" stroke-width="2.0" fill="none" filter="url(#b05)" stroke-linecap="round"/>
<path d="M430.2 339.4 Q434 337.6 438.6 338.8 M444 339.4 Q448.4 337.6 453 338.6" stroke="#333" stroke-opacity="0.5" stroke-width="1.4" fill="none" filter="url(#b05)" stroke-linecap="round"/>
</g>
<rect x="353.40" y="330.50" width="110.00" height="19.90" fill="none" stroke="#555" stroke-width="0.90"/>
<clipPath id="c8"><rect x="353.40" y="353.60" width="110.00" height="15.80"/></clipPath>
<rect x="353.40" y="353.60" width="110.00" height="15.80" fill="#d0d0d0"/>
<g clip-path="url(#c8)">
<rect x="356.20" y="359.90" width="104.60" height="3.40" rx="1.70" ry="1.70" fill="#141414" fill-opacity="0.97" filter="url(#b15)"/>
<rect x="354.95" y="359.10" width="15.10" height="4.80" rx="2.40" ry="2.40" fill="#141414" fill-opacity="1.00" filter="url(#b15)"/>
<rect x="372.65" y="359.10" width="15.10" height="4.80" rx="2.40" ry="2.40" fill="#141414" fill-opacity="1.00" filter="url(#b15)"/>
<rect x="390.25" y="359.10" width="15.10" height="4.80" rx="2.40" ry="2.40" fill="#141414" fill-opacity="1.00" filter="url(#b15)"/>
<rect x="408.25" y="359.20" width="15.10" height="4.60" rx="2.30" ry="2.30" fill="#141414" fill-opacity="1.00" filter="url(#b15)"/>
<rect x="426.25" y="358.80" width="15.10" height="5.40" rx="2.70" ry="2.70" fill="#141414" fill-opacity="1.00" filter="url(#b15)"/>
<rect x="444.45" y="358.50" width="15.10" height="6.00" rx="3.00" ry="3.00" fill="#141414" fill-opacity="1.00" filter="url(#b15)"/>
</g>
<rect x="353.40" y="353.60" width="110.00" height="15.80" fill="none" stroke="#555" stroke-width="0.90"/>
<text font-size="8.30" fill="#1c1c1c" text-anchor="end" transform="translate(351.30 287.40) scale(1.05 1)">PARP</text>
<text font-size="8.30" fill="#1c1c1c" text-anchor="end" transform="translate(351.30 298.00) scale(1.05 1)">c-PARP</text>
<text font-size="8.30" fill="#1c1c1c" text-anchor="end" transform="translate(351.30 320.60) scale(1.05 1)">p53</text>
<text font-size="8.30" fill="#1c1c1c" text-anchor="end" transform="translate(351.30 337.80) scale(1.05 1)">Cleaved</text>
<text font-size="8.30" fill="#1c1c1c" text-anchor="end" transform="translate(351.30 348.40) scale(1.05 1)">caspase-3</text>
<text font-size="8.30" fill="#1c1c1c" text-anchor="end" transform="translate(351.30 364.30) scale(1.05 1)">Actin</text>
</g>
<g id="panelE">
<text font-size="11.00" fill="#111" font-weight="bold" transform="translate(3.00 403.00) scale(1.05 1)">E</text>
<text font-size="8.60" fill="#242424" text-anchor="middle" font-weight="bold" transform="translate(100.50 414.00) scale(1.05 1)">U2OS p53<tspan dy="-3.10" font-size="6.19">AD/AD</tspan></text>
<line x1="67.00" y1="416.60" x2="134.00" y2="416.60" stroke="#333" stroke-width="0.90"/>
<line x1="45.30" y1="423.00" x2="45.30" y2="519.80" stroke="#4a4a4a" stroke-width="1.10"/>
<line x1="42.70" y1="519.30" x2="45.30" y2="519.30" stroke="#4a4a4a" stroke-width="1.00"/>
<text font-size="8.30" fill="#242424" text-anchor="end" transform="translate(41.10 522.79) scale(1.05 1)">0</text>
<line x1="42.70" y1="474.90" x2="45.30" y2="474.90" stroke="#4a4a4a" stroke-width="1.00"/>
<text font-size="8.30" fill="#242424" text-anchor="end" transform="translate(41.10 478.39) scale(1.05 1)">50</text>
<line x1="42.70" y1="430.50" x2="45.30" y2="430.50" stroke="#4a4a4a" stroke-width="1.00"/>
<text font-size="8.30" fill="#242424" text-anchor="end" transform="translate(41.10 433.99) scale(1.05 1)">100</text>
<text font-size="8.45" fill="#242424" text-anchor="middle" transform="translate(24.00 473.90) rotate(-90) scale(1 1)">Relative viability (%)</text>
<line x1="44.80" y1="519.30" x2="156.00" y2="519.30" stroke="#4a4a4a" stroke-width="1.10"/>
<rect x="49.10" y="430.94" width="7.60" height="88.36" fill="#ee3b24" stroke="#5c1208" stroke-width="0.80"/>
<line x1="52.90" y1="428.72" x2="52.90" y2="433.16" stroke="#5c1208" stroke-width="0.90"/>
<line x1="50.70" y1="428.72" x2="55.10" y2="428.72" stroke="#5c1208" stroke-width="0.90"/>
<line x1="50.70" y1="433.16" x2="55.10" y2="433.16" stroke="#5c1208" stroke-width="0.90"/>
<rect x="59.70" y="490.88" width="7.60" height="28.42" fill="#3c62b6" stroke="#14205a" stroke-width="0.80"/>
<line x1="63.50" y1="487.78" x2="63.50" y2="493.99" stroke="#14205a" stroke-width="0.90"/>
<line x1="61.30" y1="487.78" x2="65.70" y2="487.78" stroke="#14205a" stroke-width="0.90"/>
<line x1="61.30" y1="493.99" x2="65.70" y2="493.99" stroke="#14205a" stroke-width="0.90"/>
<rect x="70.30" y="510.42" width="7.60" height="8.88" fill="#4f2d8f" stroke="#1c0d40" stroke-width="0.80"/>
<line x1="74.10" y1="509.89" x2="74.10" y2="510.95" stroke="#1c0d40" stroke-width="0.90"/>
<line x1="71.90" y1="509.89" x2="76.30" y2="509.89" stroke="#1c0d40" stroke-width="0.90"/>
<line x1="71.90" y1="510.95" x2="76.30" y2="510.95" stroke="#1c0d40" stroke-width="0.90"/>
<line x1="63.50" y1="519.30" x2="63.50" y2="521.90" stroke="#4a4a4a" stroke-width="0.90"/>
<rect x="86.60" y="437.16" width="7.60" height="82.14" fill="#ee3b24" stroke="#5c1208" stroke-width="0.80"/>
<line x1="90.40" y1="434.94" x2="90.40" y2="439.38" stroke="#5c1208" stroke-width="0.90"/>
<line x1="88.20" y1="434.94" x2="92.60" y2="434.94" stroke="#5c1208" stroke-width="0.90"/>
<line x1="88.20" y1="439.38" x2="92.60" y2="439.38" stroke="#5c1208" stroke-width="0.90"/>
<rect x="97.20" y="492.66" width="7.60" height="26.64" fill="#3c62b6" stroke="#14205a" stroke-width="0.80"/>
<line x1="101.00" y1="490.00" x2="101.00" y2="495.32" stroke="#14205a" stroke-width="0.90"/>
<line x1="98.80" y1="490.00" x2="103.20" y2="490.00" stroke="#14205a" stroke-width="0.90"/>
<line x1="98.80" y1="495.32" x2="103.20" y2="495.32" stroke="#14205a" stroke-width="0.90"/>
<rect x="107.80" y="508.20" width="7.60" height="11.10" fill="#4f2d8f" stroke="#1c0d40" stroke-width="0.80"/>
<line x1="111.60" y1="507.67" x2="111.60" y2="508.73" stroke="#1c0d40" stroke-width="0.90"/>
<line x1="109.40" y1="507.67" x2="113.80" y2="507.67" stroke="#1c0d40" stroke-width="0.90"/>
<line x1="109.40" y1="508.73" x2="113.80" y2="508.73" stroke="#1c0d40" stroke-width="0.90"/>
<line x1="101.00" y1="519.30" x2="101.00" y2="521.90" stroke="#4a4a4a" stroke-width="0.90"/>
<rect x="124.30" y="444.71" width="7.60" height="74.59" fill="#ee3b24" stroke="#5c1208" stroke-width="0.80"/>
<line x1="128.10" y1="442.93" x2="128.10" y2="446.48" stroke="#5c1208" stroke-width="0.90"/>
<line x1="125.90" y1="442.93" x2="130.30" y2="442.93" stroke="#5c1208" stroke-width="0.90"/>
<line x1="125.90" y1="446.48" x2="130.30" y2="446.48" stroke="#5c1208" stroke-width="0.90"/>
<rect x="134.90" y="493.55" width="7.60" height="25.75" fill="#3c62b6" stroke="#14205a" stroke-width="0.80"/>
<line x1="138.70" y1="492.48" x2="138.70" y2="494.61" stroke="#14205a" stroke-width="0.90"/>
<line x1="136.50" y1="492.48" x2="140.90" y2="492.48" stroke="#14205a" stroke-width="0.90"/>
<line x1="136.50" y1="494.61" x2="140.90" y2="494.61" stroke="#14205a" stroke-width="0.90"/>
<rect x="145.50" y="509.53" width="7.60" height="9.77" fill="#4f2d8f" stroke="#1c0d40" stroke-width="0.80"/>
<line x1="149.30" y1="506.87" x2="149.30" y2="512.20" stroke="#1c0d40" stroke-width="0.90"/>
<line x1="147.10" y1="506.87" x2="151.50" y2="506.87" stroke="#1c0d40" stroke-width="0.90"/>
<line x1="147.10" y1="512.20" x2="151.50" y2="512.20" stroke="#1c0d40" stroke-width="0.90"/>
<line x1="138.70" y1="519.30" x2="138.70" y2="521.90" stroke="#4a4a4a" stroke-width="0.90"/>
<text font-size="8.30" fill="#242424" transform="translate(1.00 530.70) scale(1.05 1)">ActD (nmol/L)</text>
<text font-size="8.30" fill="#242424" text-anchor="middle" transform="translate(63.50 530.70) scale(1.05 1)">0</text>
<text font-size="8.30" fill="#242424" text-anchor="middle" transform="translate(101.20 530.70) scale(1.05 1)">2.5</text>
<text font-size="8.30" fill="#242424" text-anchor="middle" transform="translate(138.60 530.70) scale(1.05 1)">5</text>
<rect x="47.60" y="540.40" width="9.20" height="4.80" fill="#ee3b24" stroke="#5c1208" stroke-width="0.90"/>
<text font-size="8.30" fill="#242424" transform="translate(58.60 546.00) scale(1.07 1)">DMSO</text>
<rect x="47.60" y="551.60" width="9.20" height="4.80" fill="#3c62b6" stroke="#14205a" stroke-width="0.90"/>
<text font-size="8.30" fill="#242424" transform="translate(58.60 557.20) scale(1.07 1)">10 µmol/L etoposide</text>
<rect x="47.60" y="562.80" width="9.20" height="4.80" fill="#4f2d8f" stroke="#1c0d40" stroke-width="0.90"/>
<text font-size="8.30" fill="#242424" transform="translate(58.60 568.40) scale(1.07 1)">20 µmol/L etoposide</text>
</g>
<g id="panelF">
<text font-size="11.00" fill="#111" font-weight="bold" transform="translate(167.50 403.00) scale(1.05 1)">F</text>
<line x1="198.00" y1="420.70" x2="198.00" y2="519.80" stroke="#2e2e2e" stroke-width="1.20"/>
<line x1="195.40" y1="519.30" x2="198.00" y2="519.30" stroke="#2e2e2e" stroke-width="1.10"/>
<text font-size="8.30" fill="#242424" text-anchor="end" transform="translate(192.40 522.79) scale(1.05 1)">0</text>
<line x1="195.40" y1="474.55" x2="198.00" y2="474.55" stroke="#2e2e2e" stroke-width="1.10"/>
<text font-size="8.30" fill="#242424" text-anchor="end" transform="translate(192.40 478.04) scale(1.05 1)">50</text>
<line x1="195.40" y1="429.80" x2="198.00" y2="429.80" stroke="#2e2e2e" stroke-width="1.10"/>
<text font-size="8.30" fill="#242424" text-anchor="end" transform="translate(192.40 433.29) scale(1.05 1)">100</text>
<text font-size="8.45" fill="#242424" text-anchor="middle" transform="translate(173.40 474.55) rotate(-90) scale(1 1)">Relative viability (%)</text>
<line x1="197.50" y1="519.30" x2="349.50" y2="519.30" stroke="#2e2e2e" stroke-width="1.20"/>
<line x1="211.20" y1="519.30" x2="211.20" y2="522.30" stroke="#2e2e2e" stroke-width="1.10"/>
<text font-size="8.30" fill="#242424" text-anchor="middle" transform="translate(211.20 531.50) scale(1.05 1)">2</text>
<line x1="242.25" y1="519.30" x2="242.25" y2="522.30" stroke="#2e2e2e" stroke-width="1.10"/>
<text font-size="8.30" fill="#242424" text-anchor="middle" transform="translate(242.25 531.50) scale(1.05 1)">4</text>
<line x1="273.30" y1="519.30" x2="273.30" y2="522.30" stroke="#2e2e2e" stroke-width="1.10"/>
<text font-size="8.30" fill="#242424" text-anchor="middle" transform="translate(273.30 531.50) scale(1.05 1)">8</text>
<line x1="304.35" y1="519.30" x2="304.35" y2="522.30" stroke="#2e2e2e" stroke-width="1.10"/>
<text font-size="8.30" fill="#242424" text-anchor="middle" transform="translate(304.35 531.50) scale(1.05 1)">16</text>
<line x1="335.40" y1="519.30" x2="335.40" y2="522.30" stroke="#2e2e2e" stroke-width="1.10"/>
<text font-size="8.30" fill="#242424" text-anchor="middle" transform="translate(335.40 531.50) scale(1.05 1)">32</text>
<text font-size="8.30" fill="#242424" text-anchor="middle" transform="translate(273.30 544.20) scale(1.05 1)">[IKE] µmol/L</text>
<path d="M211.20 433.46 L212.75 433.47 L214.30 433.48 L215.86 433.50 L217.41 433.51 L218.96 433.53 L220.51 433.55 L222.07 433.58 L223.62 433.60 L225.17 433.64 L226.72 433.67 L228.28 433.71 L229.83 433.76 L231.38 433.81 L232.94 433.87 L234.49 433.94 L236.04 434.02 L237.59 434.11 L239.14 434.21 L240.70 434.32 L242.25 434.45 L243.80 434.60 L245.35 434.77 L246.91 434.96 L248.46 435.17 L250.01 435.42 L251.56 435.70 L253.12 436.01 L254.67 436.37 L256.22 436.77 L257.77 437.23 L259.33 437.74 L260.88 438.32 L262.43 438.97 L263.98 439.70 L265.54 440.51 L267.09 441.42 L268.64 442.44 L270.19 443.57 L271.75 444.82 L273.30 446.19 L274.85 447.71 L276.40 449.37 L277.96 451.17 L279.51 453.13 L281.06 455.24 L282.62 457.50 L284.17 459.90 L285.72 462.44 L287.27 465.11 L288.82 467.89 L290.38 470.76 L291.93 473.71 L293.48 476.70 L295.03 479.71 L296.59 482.73 L298.14 485.71 L299.69 488.65 L301.25 491.51 L302.80 494.27 L304.35 496.92 L305.90 499.44 L307.45 501.82 L309.01 504.05 L310.56 506.14 L312.11 508.07 L313.66 509.85 L315.22 511.49 L316.77 512.98 L318.32 514.34 L319.88 515.57 L321.43 516.68 L322.98 517.67 L324.53 518.57 L326.08 519.30 L327.64 519.30 L329.19 519.30 L330.74 519.30 L332.30 519.30 L333.85 519.30 L335.40 519.30" stroke="#e8262a" stroke-width="0.90" fill="none"/>
<path d="M211.20 433.43 L212.75 433.44 L214.30 433.44 L215.86 433.45 L217.41 433.46 L218.96 433.46 L220.51 433.47 L222.07 433.48 L223.62 433.49 L225.17 433.50 L226.72 433.52 L228.28 433.53 L229.83 433.55 L231.38 433.56 L232.94 433.58 L234.49 433.60 L236.04 433.63 L237.59 433.65 L239.14 433.68 L240.70 433.71 L242.25 433.75 L243.80 433.79 L245.35 433.83 L246.91 433.88 L248.46 433.93 L250.01 433.99 L251.56 434.05 L253.12 434.12 L254.67 434.20 L256.22 434.28 L257.77 434.37 L259.33 434.48 L260.88 434.59 L262.43 434.72 L263.98 434.85 L265.54 435.01 L267.09 435.17 L268.64 435.36 L270.19 435.56 L271.75 435.78 L273.30 436.03 L274.85 436.29 L276.40 436.59 L277.96 436.91 L279.51 437.26 L281.06 437.65 L282.62 438.08 L284.17 438.54 L285.72 439.05 L287.27 439.60 L288.82 440.20 L290.38 440.85 L291.93 441.56 L293.48 442.33 L295.03 443.16 L296.59 444.06 L298.14 445.03 L299.69 446.07 L301.25 447.19 L302.80 448.39 L304.35 449.66 L305.90 451.02 L307.45 452.46 L309.01 453.99 L310.56 455.59 L312.11 457.27 L313.66 459.03 L315.22 460.86 L316.77 462.76 L318.32 464.72 L319.88 466.73 L321.43 468.79 L322.98 470.88 L324.53 473.01 L326.08 475.14 L327.64 477.29 L329.19 479.43 L330.74 481.55 L332.30 483.65 L333.85 485.71 L335.40 487.73" stroke="#3a5cb4" stroke-width="0.90" fill="none"/>
<path d="M211.20 434.45 L212.75 434.45 L214.30 434.45 L215.86 434.45 L217.41 434.45 L218.96 434.45 L220.51 434.45 L222.07 434.45 L223.62 434.45 L225.17 434.45 L226.72 434.45 L228.28 434.45 L229.83 434.45 L231.38 434.45 L232.94 434.45 L234.49 434.45 L236.04 434.45 L237.59 434.45 L239.14 434.45 L240.70 434.45 L242.25 434.45 L243.80 434.45 L245.35 434.45 L246.91 434.45 L248.46 434.45 L250.01 434.45 L251.56 434.45 L253.12 434.45 L254.67 434.45 L256.22 434.45 L257.77 434.45 L259.33 434.45 L260.88 434.45 L262.43 434.45 L263.98 434.45 L265.54 434.45 L267.09 434.45 L268.64 434.45 L270.19 434.45 L271.75 434.45 L273.30 434.45 L274.85 434.45 L276.40 434.45 L277.96 434.45 L279.51 434.45 L281.06 434.45 L282.62 434.45 L284.17 434.45 L285.72 434.45 L287.27 434.45 L288.82 434.45 L290.38 434.45 L291.93 434.45 L293.48 434.45 L295.03 434.45 L296.59 434.45 L298.14 434.45 L299.69 434.45 L301.25 434.45 L302.80 434.45 L304.35 434.45 L305.90 434.45 L307.45 434.45 L309.01 434.45 L310.56 434.45 L312.11 434.45 L313.66 434.45 L315.22 434.45 L316.77 434.45 L318.32 434.45 L319.88 434.45 L321.43 434.45 L322.98 434.45 L324.53 434.45 L326.08 434.45 L327.64 434.45 L329.19 434.45 L330.74 434.45 L332.30 434.45 L333.85 434.45 L335.40 434.45" stroke="#1c2a80" stroke-width="0.90" fill="none"/>
<line x1="211.20" y1="431.59" x2="211.20" y2="422.64" stroke="#aaaaaa" stroke-width="0.80"/>
<line x1="209.00" y1="431.59" x2="213.40" y2="431.59" stroke="#aaaaaa" stroke-width="0.80"/>
<line x1="209.00" y1="422.64" x2="213.40" y2="422.64" stroke="#aaaaaa" stroke-width="0.80"/>
<rect x="209.30" y="425.21" width="3.80" height="3.80" fill="#aaaaaa"/>
<line x1="242.25" y1="432.48" x2="242.25" y2="425.32" stroke="#aaaaaa" stroke-width="0.80"/>
<line x1="240.05" y1="432.48" x2="244.45" y2="432.48" stroke="#aaaaaa" stroke-width="0.80"/>
<line x1="240.05" y1="425.32" x2="244.45" y2="425.32" stroke="#aaaaaa" stroke-width="0.80"/>
<rect x="240.35" y="427.00" width="3.80" height="3.80" fill="#aaaaaa"/>
<line x1="273.30" y1="432.04" x2="273.30" y2="429.35" stroke="#aaaaaa" stroke-width="0.80"/>
<line x1="271.10" y1="432.04" x2="275.50" y2="432.04" stroke="#aaaaaa" stroke-width="0.80"/>
<line x1="271.10" y1="429.35" x2="275.50" y2="429.35" stroke="#aaaaaa" stroke-width="0.80"/>
<rect x="271.40" y="428.79" width="3.80" height="3.80" fill="#aaaaaa"/>
<line x1="304.35" y1="433.38" x2="304.35" y2="426.22" stroke="#aaaaaa" stroke-width="0.80"/>
<line x1="302.15" y1="433.38" x2="306.55" y2="433.38" stroke="#aaaaaa" stroke-width="0.80"/>
<line x1="302.15" y1="426.22" x2="306.55" y2="426.22" stroke="#aaaaaa" stroke-width="0.80"/>
<rect x="302.45" y="427.90" width="3.80" height="3.80" fill="#aaaaaa"/>
<line x1="335.40" y1="430.69" x2="335.40" y2="423.53" stroke="#aaaaaa" stroke-width="0.80"/>
<line x1="333.20" y1="430.69" x2="337.60" y2="430.69" stroke="#aaaaaa" stroke-width="0.80"/>
<line x1="333.20" y1="423.53" x2="337.60" y2="423.53" stroke="#aaaaaa" stroke-width="0.80"/>
<rect x="333.50" y="425.21" width="3.80" height="3.80" fill="#aaaaaa"/>
<line x1="211.20" y1="436.96" x2="211.20" y2="429.80" stroke="#1c2a80" stroke-width="0.80"/>
<line x1="209.00" y1="436.96" x2="213.40" y2="436.96" stroke="#1c2a80" stroke-width="0.80"/>
<line x1="209.00" y1="429.80" x2="213.40" y2="429.80" stroke="#1c2a80" stroke-width="0.80"/>
<path d="M211.20 435.78 L213.40 431.78 L209.00 431.78 Z" fill="#1c2a80"/>
<line x1="242.25" y1="435.17" x2="242.25" y2="431.59" stroke="#1c2a80" stroke-width="0.80"/>
<line x1="240.05" y1="435.17" x2="244.45" y2="435.17" stroke="#1c2a80" stroke-width="0.80"/>
<line x1="240.05" y1="431.59" x2="244.45" y2="431.59" stroke="#1c2a80" stroke-width="0.80"/>
<path d="M242.25 435.78 L244.45 431.78 L240.05 431.78 Z" fill="#1c2a80"/>
<line x1="273.30" y1="438.48" x2="273.30" y2="433.11" stroke="#1c2a80" stroke-width="0.80"/>
<line x1="271.10" y1="438.48" x2="275.50" y2="438.48" stroke="#1c2a80" stroke-width="0.80"/>
<line x1="271.10" y1="433.11" x2="275.50" y2="433.11" stroke="#1c2a80" stroke-width="0.80"/>
<path d="M273.30 438.20 L275.50 434.20 L271.10 434.20 Z" fill="#1c2a80"/>
<line x1="304.35" y1="438.03" x2="304.35" y2="432.66" stroke="#1c2a80" stroke-width="0.80"/>
<line x1="302.15" y1="438.03" x2="306.55" y2="438.03" stroke="#1c2a80" stroke-width="0.80"/>
<line x1="302.15" y1="432.66" x2="306.55" y2="432.66" stroke="#1c2a80" stroke-width="0.80"/>
<path d="M304.35 437.75 L306.55 433.75 L302.15 433.75 Z" fill="#1c2a80"/>
<line x1="335.40" y1="438.21" x2="335.40" y2="431.05" stroke="#1c2a80" stroke-width="0.80"/>
<line x1="333.20" y1="438.21" x2="337.60" y2="438.21" stroke="#1c2a80" stroke-width="0.80"/>
<line x1="333.20" y1="431.05" x2="337.60" y2="431.05" stroke="#1c2a80" stroke-width="0.80"/>
<path d="M335.40 437.03 L337.60 433.03 L333.20 433.03 Z" fill="#1c2a80"/>
<line x1="211.20" y1="435.17" x2="211.20" y2="431.59" stroke="#3a5cb4" stroke-width="0.80"/>
<line x1="209.00" y1="435.17" x2="213.40" y2="435.17" stroke="#3a5cb4" stroke-width="0.80"/>
<line x1="209.00" y1="431.59" x2="213.40" y2="431.59" stroke="#3a5cb4" stroke-width="0.80"/>
<path d="M211.20 430.98 L213.40 434.98 L209.00 434.98 Z" fill="#3a5cb4"/>
<line x1="242.25" y1="435.17" x2="242.25" y2="431.59" stroke="#3a5cb4" stroke-width="0.80"/>
<line x1="240.05" y1="435.17" x2="244.45" y2="435.17" stroke="#3a5cb4" stroke-width="0.80"/>
<line x1="240.05" y1="431.59" x2="244.45" y2="431.59" stroke="#3a5cb4" stroke-width="0.80"/>
<path d="M242.25 430.98 L244.45 434.98 L240.05 434.98 Z" fill="#3a5cb4"/>
<line x1="273.30" y1="438.75" x2="273.30" y2="435.17" stroke="#3a5cb4" stroke-width="0.80"/>
<line x1="271.10" y1="438.75" x2="275.50" y2="438.75" stroke="#3a5cb4" stroke-width="0.80"/>
<line x1="271.10" y1="435.17" x2="275.50" y2="435.17" stroke="#3a5cb4" stroke-width="0.80"/>
<path d="M273.30 434.56 L275.50 438.56 L271.10 438.56 Z" fill="#3a5cb4"/>
<line x1="304.35" y1="472.22" x2="304.35" y2="443.58" stroke="#3a5cb4" stroke-width="0.80"/>
<line x1="302.15" y1="472.22" x2="306.55" y2="472.22" stroke="#3a5cb4" stroke-width="0.80"/>
<line x1="302.15" y1="443.58" x2="306.55" y2="443.58" stroke="#3a5cb4" stroke-width="0.80"/>
<path d="M304.35 455.50 L306.55 459.50 L302.15 459.50 Z" fill="#3a5cb4"/>
<line x1="335.40" y1="504.53" x2="335.40" y2="471.78" stroke="#3a5cb4" stroke-width="0.80"/>
<line x1="333.20" y1="504.53" x2="337.60" y2="504.53" stroke="#3a5cb4" stroke-width="0.80"/>
<line x1="333.20" y1="471.78" x2="337.60" y2="471.78" stroke="#3a5cb4" stroke-width="0.80"/>
<path d="M335.40 485.75 L337.60 489.75 L333.20 489.75 Z" fill="#3a5cb4"/>
<line x1="211.20" y1="431.59" x2="211.20" y2="426.22" stroke="#e8262a" stroke-width="0.80"/>
<line x1="209.00" y1="431.59" x2="213.40" y2="431.59" stroke="#e8262a" stroke-width="0.80"/>
<line x1="209.00" y1="426.22" x2="213.40" y2="426.22" stroke="#e8262a" stroke-width="0.80"/>
<circle cx="211.20" cy="428.90" r="2.1" fill="#e8262a"/>
<line x1="242.25" y1="433.38" x2="242.25" y2="426.22" stroke="#e8262a" stroke-width="0.80"/>
<line x1="240.05" y1="433.38" x2="244.45" y2="433.38" stroke="#e8262a" stroke-width="0.80"/>
<line x1="240.05" y1="426.22" x2="244.45" y2="426.22" stroke="#e8262a" stroke-width="0.80"/>
<circle cx="242.25" cy="429.80" r="2.1" fill="#e8262a"/>
<line x1="273.30" y1="467.39" x2="273.30" y2="438.75" stroke="#e8262a" stroke-width="0.80"/>
<line x1="271.10" y1="467.39" x2="275.50" y2="467.39" stroke="#e8262a" stroke-width="0.80"/>
<line x1="271.10" y1="438.75" x2="275.50" y2="438.75" stroke="#e8262a" stroke-width="0.80"/>
<circle cx="273.30" cy="453.07" r="2.1" fill="#e8262a"/>
<line x1="304.35" y1="502.03" x2="304.35" y2="489.50" stroke="#e8262a" stroke-width="0.80"/>
<line x1="302.15" y1="502.03" x2="306.55" y2="502.03" stroke="#e8262a" stroke-width="0.80"/>
<line x1="302.15" y1="489.50" x2="306.55" y2="489.50" stroke="#e8262a" stroke-width="0.80"/>
<circle cx="304.35" cy="495.76" r="2.1" fill="#e8262a"/>
<line x1="335.40" y1="510.08" x2="335.40" y2="508.29" stroke="#e8262a" stroke-width="0.80"/>
<line x1="333.20" y1="510.08" x2="337.60" y2="510.08" stroke="#e8262a" stroke-width="0.80"/>
<line x1="333.20" y1="508.29" x2="337.60" y2="508.29" stroke="#e8262a" stroke-width="0.80"/>
<circle cx="335.40" cy="509.19" r="2.1" fill="#e8262a"/>
<line x1="203.80" y1="469.30" x2="213.70" y2="469.30" stroke="#e8262a" stroke-width="0.80"/>
<circle cx="208.70" cy="469.30" r="2.1" fill="#e8262a"/>
<text font-size="8.30" fill="#242424" transform="translate(216.60 472.50) scale(1.05 1)">p53<tspan dy="-2.57" font-size="6.47">+/+</tspan></text>
<rect x="206.80" y="480.90" width="3.80" height="3.80" fill="#aaaaaa"/>
<text font-size="8.30" fill="#242424" transform="translate(216.60 486.00) scale(1.05 1)">p53 KO</text>
<line x1="203.80" y1="496.70" x2="213.70" y2="496.70" stroke="#3a5cb4" stroke-width="0.80"/>
<path d="M208.70 494.30 L210.90 498.30 L206.50 498.30 Z" fill="#3a5cb4"/>
<text font-size="8.30" fill="#242424" transform="translate(216.60 499.90) scale(1.05 1)">p53<tspan dy="-2.57" font-size="6.47">+/AD</tspan></text>
<line x1="203.80" y1="510.90" x2="213.70" y2="510.90" stroke="#1c2a80" stroke-width="0.80"/>
<path d="M208.70 513.30 L210.90 509.30 L206.50 509.30 Z" fill="#1c2a80"/>
<text font-size="8.30" fill="#242424" transform="translate(216.60 514.10) scale(1.05 1)">p53<tspan dy="-2.57" font-size="6.47">AD/AD</tspan></text>
</g>
<g id="panelG">
<text font-size="11.00" fill="#111" font-weight="bold" transform="translate(359.00 403.60) scale(1.05 1)">G</text>
<text font-size="8.30" fill="#242424" text-anchor="middle" transform="translate(425.30 407.60) scale(1.05 1)">5 µmol/L CPT</text>
<line x1="388.40" y1="421.00" x2="388.40" y2="520.20" stroke="#4a4a4a" stroke-width="1.10"/>
<line x1="385.80" y1="519.70" x2="388.40" y2="519.70" stroke="#4a4a4a" stroke-width="1.00"/>
<text font-size="8.30" fill="#242424" text-anchor="end" transform="translate(383.40 523.19) scale(1.05 1)">0</text>
<line x1="385.80" y1="476.35" x2="388.40" y2="476.35" stroke="#4a4a4a" stroke-width="1.00"/>
<text font-size="8.30" fill="#242424" text-anchor="end" transform="translate(383.40 479.84) scale(1.05 1)">50</text>
<line x1="385.80" y1="433.00" x2="388.40" y2="433.00" stroke="#4a4a4a" stroke-width="1.00"/>
<text font-size="8.30" fill="#242424" text-anchor="end" transform="translate(383.40 436.49) scale(1.05 1)">100</text>
<text font-size="8.45" fill="#242424" text-anchor="middle" transform="translate(364.80 476.35) rotate(-90) scale(1 1)">Relative viability (%)</text>
<line x1="387.90" y1="519.70" x2="463.00" y2="519.70" stroke="#4a4a4a" stroke-width="1.10"/>
<rect x="394.40" y="459.01" width="10.60" height="60.69" fill="#ec2027" stroke="#5c0a0c" stroke-width="0.80"/>
<line x1="399.70" y1="454.68" x2="399.70" y2="463.35" stroke="#5c0a0c" stroke-width="0.90"/>
<line x1="396.70" y1="454.68" x2="402.70" y2="454.68" stroke="#5c0a0c" stroke-width="0.90"/>
<line x1="396.70" y1="463.35" x2="402.70" y2="463.35" stroke="#5c0a0c" stroke-width="0.90"/>
<line x1="399.70" y1="519.70" x2="399.70" y2="522.70" stroke="#4a4a4a" stroke-width="1.00"/>
<rect x="411.40" y="445.14" width="10.60" height="74.56" fill="#c9c9c9" stroke="#4a4a4a" stroke-width="0.80"/>
<line x1="416.70" y1="442.97" x2="416.70" y2="447.31" stroke="#4a4a4a" stroke-width="0.90"/>
<line x1="413.70" y1="442.97" x2="419.70" y2="442.97" stroke="#4a4a4a" stroke-width="0.90"/>
<line x1="413.70" y1="447.31" x2="419.70" y2="447.31" stroke="#4a4a4a" stroke-width="0.90"/>
<line x1="416.70" y1="519.70" x2="416.70" y2="522.70" stroke="#4a4a4a" stroke-width="1.00"/>
<rect x="428.70" y="482.42" width="10.60" height="37.28" fill="#3a5cb4" stroke="#14255e" stroke-width="0.80"/>
<line x1="434.00" y1="481.55" x2="434.00" y2="483.29" stroke="#14255e" stroke-width="0.90"/>
<line x1="431.00" y1="481.55" x2="437.00" y2="481.55" stroke="#14255e" stroke-width="0.90"/>
<line x1="431.00" y1="483.29" x2="437.00" y2="483.29" stroke="#14255e" stroke-width="0.90"/>
<line x1="434.00" y1="519.70" x2="434.00" y2="522.70" stroke="#4a4a4a" stroke-width="1.00"/>
<rect x="445.90" y="454.24" width="10.60" height="65.46" fill="#232f86" stroke="#0a0f3c" stroke-width="0.80"/>
<line x1="451.20" y1="449.91" x2="451.20" y2="458.58" stroke="#0a0f3c" stroke-width="0.90"/>
<line x1="448.20" y1="449.91" x2="454.20" y2="449.91" stroke="#0a0f3c" stroke-width="0.90"/>
<line x1="448.20" y1="458.58" x2="454.20" y2="458.58" stroke="#0a0f3c" stroke-width="0.90"/>
<line x1="451.20" y1="519.70" x2="451.20" y2="522.70" stroke="#4a4a4a" stroke-width="1.00"/>
<path d="M399.4 454 V425.4 H434 " stroke="#2a2a2a" stroke-width="1.00" fill="none"/>
<path d="M434 419.4 V480.5" stroke="#2a2a2a" stroke-width="1.00" fill="none"/>
<path d="M399.4 439.6 H416.6" stroke="#2a2a2a" stroke-width="1.00" fill="none"/>
<path d="M416.9 443 V436.5 H434" stroke="#2a2a2a" stroke-width="1.00" fill="none"/>
<path d="M434 419.4 H455.8 V450" stroke="#2a2a2a" stroke-width="1.00" fill="none"/>
<text font-size="9.80" fill="#1a1a1a" text-anchor="middle" font-weight="bold" transform="translate(418.00 424.60) scale(1 1)" letter-spacing="2.00">**</text>
<text font-size="9.80" fill="#1a1a1a" text-anchor="middle" font-weight="bold" transform="translate(408.00 439.20) scale(1 1)" letter-spacing="0.00">*</text>
<text font-size="9.80" fill="#1a1a1a" text-anchor="middle" font-weight="bold" transform="translate(426.50 436.20) scale(1 1)" letter-spacing="2.00">***</text>
<text font-size="9.80" fill="#1a1a1a" text-anchor="middle" font-weight="bold" transform="translate(446.00 418.00) scale(1 1)" letter-spacing="2.00">**</text>
<text font-size="8.30" fill="#242424" text-anchor="end" transform="translate(402.60 530.60) rotate(-45) scale(1.025 1)">p53<tspan dy="-2.57" font-size="6.47">+/+</tspan></text>
<text font-size="8.30" fill="#242424" text-anchor="end" transform="translate(419.00 527.20) rotate(-45) scale(1.025 1)">p53 KO</text>
<text font-size="8.30" fill="#242424" text-anchor="end" transform="translate(437.00 530.60) rotate(-45) scale(1.025 1)">p53<tspan dy="-2.57" font-size="6.47">+/AD</tspan></text>
<text font-size="8.30" fill="#242424" text-anchor="end" transform="translate(454.20 530.60) rotate(-45) scale(1.025 1)">p53<tspan dy="-2.57" font-size="6.47">AD/AD</tspan></text>
</g>
</svg>
</body></html>
